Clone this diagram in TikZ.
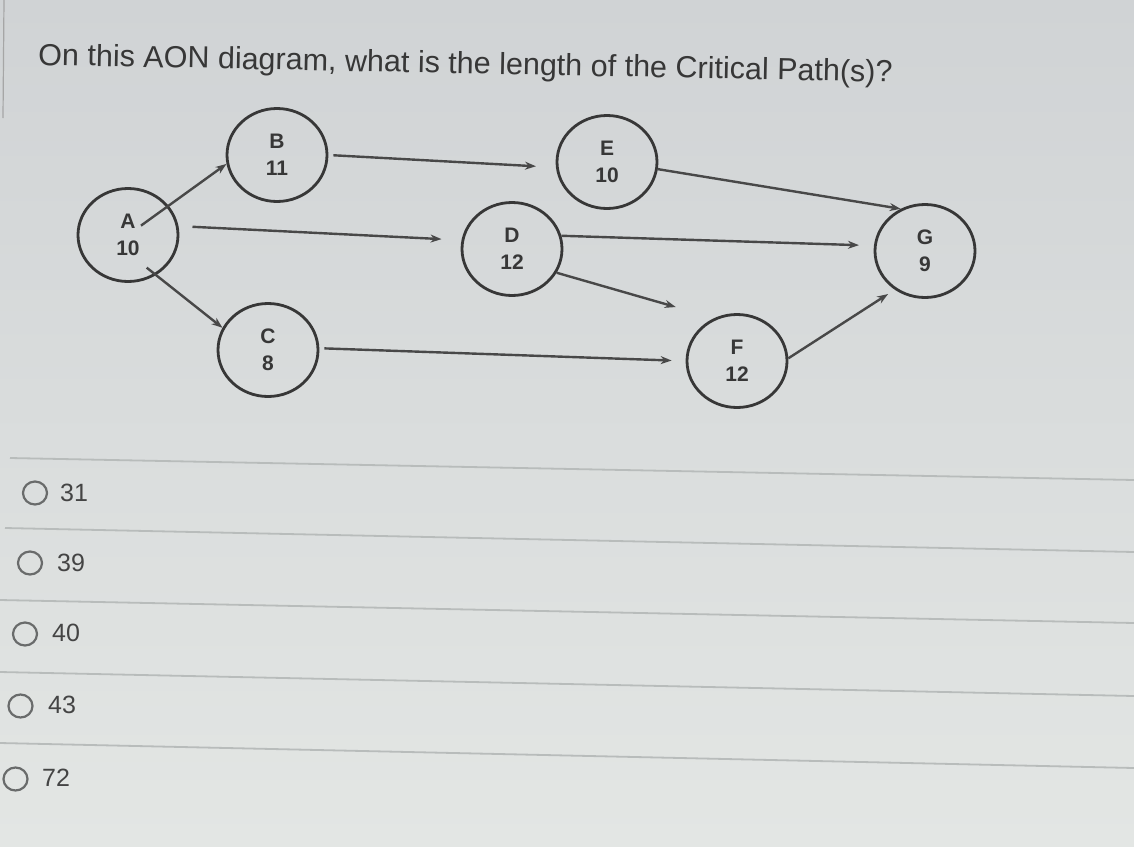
\documentclass[tikz,border=0pt]{standalone}
\usepackage{fontspec}
\setmainfont{Liberation Sans}
\usetikzlibrary{shapes.geometric,arrows.meta}
\definecolor{bgtop}{RGB}{208,211,213}
\definecolor{bgbot}{RGB}{227,230,228}
\definecolor{ink}{RGB}{55,55,55}
\definecolor{edgeink}{RGB}{72,72,72}
\definecolor{sepline}{RGB}{184,188,187}
\definecolor{optink}{RGB}{68,68,68}
\definecolor{radioink}{RGB}{105,107,107}
\tikzset{
  act/.style={ellipse, draw=ink, line width=2.8pt, minimum width=100pt, minimum height=93pt,
    inner sep=0pt, align=center, text=ink,
    font=\fontsize{21}{27}\selectfont\bfseries},
  arr/.style={draw=edgeink, line width=2.4pt, -{Stealth[length=11pt,width=8pt]}},
  sep/.style={draw=sepline, line width=1.8pt},
  radio/.style={ellipse, draw=radioink, line width=2.2pt, minimum width=24pt, minimum height=23pt, inner sep=0pt},
  opt/.style={anchor=west, inner sep=0pt, text=optink, font=\fontsize{25}{30}\selectfont},
  ttl/.style={anchor=base west, inner sep=0pt, text=ink, rotate=-1.15, font=\fontsize{30.5}{36}\selectfont}
}
\begin{document}
\begin{tikzpicture}[x=1pt,y=-1pt]
\shade[top color=bgtop, bottom color=bgbot] (0,0) rectangle (1134,846);
\useasboundingbox (0,0) rectangle (1134,846);
\draw[draw=black!35, line width=1.2pt] (4,0) -- (3,118);

\node[ttl] (title) at (38,65) {On this AON diagram, what is the length of the Critical Path(s)?};

\node[act] (A) at (128,235) {A\\10};
\node[act] (B) at (277,155) {B\\11};
\node[act] (C) at (268,350) {C\\8};
\node[act] (D) at (512,249) {D\\12};
\node[act] (E) at (607,162) {E\\10};
\node[act] (F) at (737,361) {F\\12};
\node[act] (G) at (925,251) {G\\9};

\draw[arr, shorten <=16pt] (A.center) -- (B.190);
\draw[arr, shorten <=14pt, shorten >=20pt] (A.10) -- (D.170);
\draw[arr, shorten <=-12pt] (A.-55) -- (C.154);
\draw[arr, shorten <=5pt, shorten >=20pt] (B.0) -- (E.186);
\draw[arr, shorten <=5pt, shorten >=14pt] (C.2) -- (F.180);
\draw[arr, shorten >=15pt] (D.15) -- (G.174);
\draw[arr, shorten >=40pt] (D.-28) -- (F.118);
\draw[arr] (E.-8) -- (G.120);
\draw[arr, shorten >=8pt] (F.3) -- (G.-128);

\coordinate (s1a) at (10,458); \coordinate (s1b) at (1134,480);
\coordinate (s2a) at (5,528);  \coordinate (s2b) at (1134,552);
\coordinate (s3a) at (0,600);  \coordinate (s3b) at (1134,623);
\coordinate (s4a) at (0,672);  \coordinate (s4b) at (1134,696);
\coordinate (s5a) at (0,743);  \coordinate (s5b) at (1134,768);
\draw[sep] (s1a) -- (s1b);
\draw[sep] (s2a) -- (s2b);
\draw[sep] (s3a) -- (s3b);
\draw[sep] (s4a) -- (s4b);
\draw[sep] (s5a) -- (s5b);

\node[radio] (r1) at (35,493) {};
\node[radio] (r2) at (30,563) {};
\node[radio] (r3) at (25,634) {};
\node[radio] (r4) at (20.5,706) {};
\node[radio] (r5) at (15.5,779) {};
\node[opt] (o1) at (60,493) {31};
\node[opt] (o2) at (57,563) {39};
\node[opt] (o3) at (52,633) {40};
\node[opt] (o4) at (48,705) {43};
\node[opt] (o5) at (42,778) {72};
\end{tikzpicture}
\end{document}
